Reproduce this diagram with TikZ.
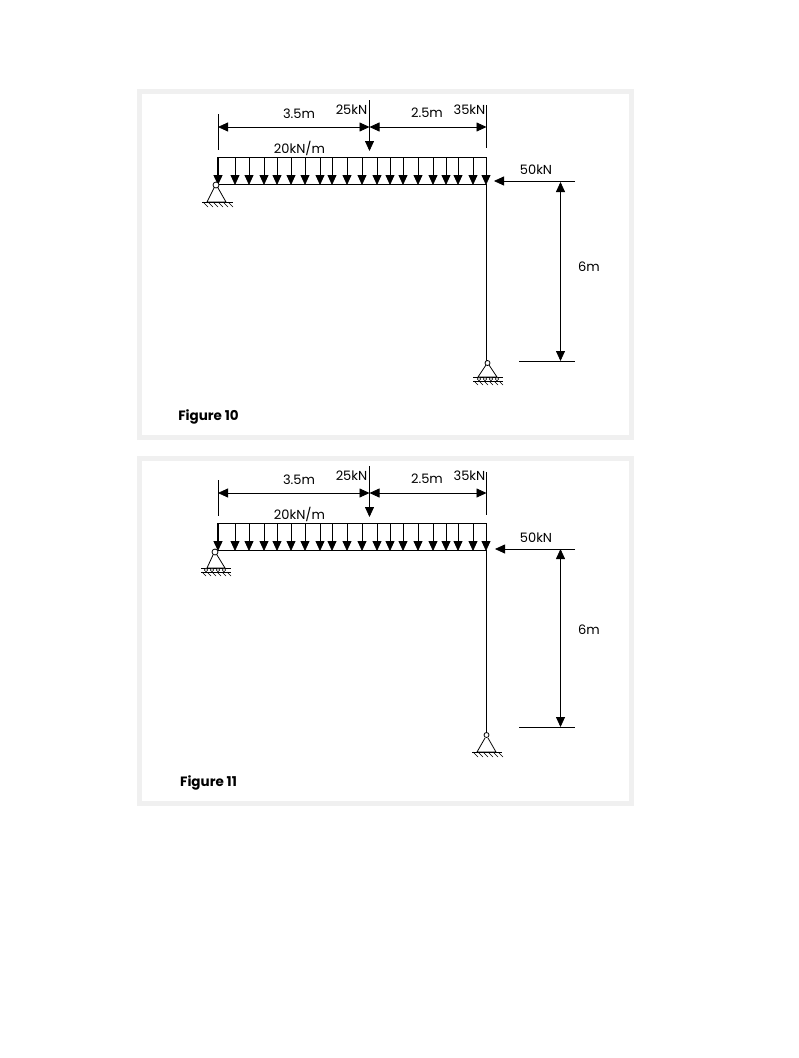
\documentclass[tikz,border=0pt]{standalone}
\usepackage{fontspec}
\setmainfont{Poppins}
\usetikzlibrary{arrows.meta}
\definecolor{panelgray}{HTML}{F0F0F0}
\tikzset{
  panel/.style = {draw = panelgray, line width = 5pt, fill = white},
  thin line/.style = {line width = .8pt},
  load/.style = {line width = .8pt, -{Triangle[width = 9pt, length = 10pt]}},
  dim/.style = {line width = .8pt, {Triangle[width = 9pt, length = 10pt]}-{Triangle[width = 9pt, length = 10pt]}},
  label/.style = {font = \fontsize{13}{14}\selectfont, inner sep = 0pt},
  title/.style = {font = \fontsize{13.5}{14}\selectfont\bfseries, inner sep = 0pt},
  hatch/.style = {line width = .6pt}
}
\begin{document}
\begin{tikzpicture}[x = 1pt, y = -1pt]
      \useasboundingbox [fill = white] (0,0) rectangle (799,1058);
      \draw [panel] (139.5,91.5) rectangle (631.5,437.5);
      \draw [panel] (139.5,458.5) rectangle (631.5,803.5);
      \foreach \off/\fig/\wtop in {0/10/105, 366/11/106} {
        \begin{scope}[yshift = -\off pt]
        \draw [thin line] (218,114) --++ (0,36);
        \draw [thin line] (486.5,\wtop) --++ (0,43);
        \draw [dim] (218,127) -- (369.5,127);
        \draw [dim] (369.5,127) -- (486.5,127);
        \draw [load] (369.5,100) -- (369.5,151);
        \draw [thin line] (218,157) -- (486.5,157);
        \draw [load, line width = 1.4pt] (218,157) -- (218,185);
        \foreach \xload in {235,249,264,277,291,305,320,332,347,362,377,390,403,418,433,446,458,473,486} {
          \draw [load] (\xload,157) -- (\xload,185);
        }
        \draw [line width = 1.2pt] (218,184.5) -- (487,184.5);
        \node [label] (spanA\fig) at (299,114) {3.5m};
        \node [label] (forceA\fig) at (351.5,110) {25kN};
        \node [label] (spanB\fig) at (427,112.5) {2.5m};
        \node [label] (forceB\fig) at (469.5,110) {35kN};
        \node [label] (udl\fig) at (299.5,148) {20kN/m};
        \end{scope}
      }
      \draw [thin line] (486.5,185) -- (486.5,362);
      \draw [load] (575,181) -- (494,181);
      \draw [dim] (560.5,182) -- (560.5,361);
      \draw [thin line] (519,361) --++ (56,0);
      \node [label] (wind10) at (536,170) {50kN};
      \node [label] (height10) at (589,267) {6m};
      \node [title] (title10) at (208.5,417) {Figure 10};
      \draw [thin line] (486.5,551) -- (486.5,733);
      \draw [load] (575,549) -- (495,549);
      \draw [dim] (560.5,549) -- (560.5,727);
      \draw [thin line] (519,727) --++ (56,0);
      \node [label] (wind11) at (536,538) {50kN};
      \node [label] (height11) at (589,630) {6m};
      \node [title] (title11) at (208.5,783) {Figure 11};
      % hinge, figure 10 left
      \draw [thin line] (214.5,187) -- (207,202) -- (226,202) -- (217.5,187);
      \draw [fill = white, thin line] (216,185) circle (3pt);
      \draw [thin line] (202,202) --++ (31,0);
      \foreach \xh in {203,208,213,218,223,228} {
        \draw [hatch] (\xh,202) --++ (5,5);
      }
      % roller, figure 10 right
      \draw [thin line] (486,365) -- (478,377) -- (497,377) -- (489,365);
      \draw [fill = white, thin line] (487.5,363) circle (2.5pt);
      \draw [thin line] (473,377) --++ (30,0);
      \draw [thin line] (473,381) --++ (30,0);
      \foreach \xr in {478,484,490,496} {
        \draw [hatch, fill = white] (\xr+1,379) circle (1.8pt);
      }
      \foreach \xh in {474,479,484,489,494,499} {
        \draw [hatch] (\xh,381) --++ (4,4);
      }
      % roller, figure 11 left
      \draw [thin line] (213,555) -- (207,568) -- (225,568) -- (217,555);
      \draw [fill = white, thin line] (215,552) circle (3pt);
      \draw [thin line] (201,568) --++ (30,0);
      \draw [thin line] (201,572) --++ (30,0);
      \foreach \xr in {206,212,218,224} {
        \draw [hatch, fill = white] (\xr,570) circle (1.8pt);
      }
      \foreach \xh in {202,207,212,217,222,227} {
        \draw [hatch] (\xh,572) --++ (4,4);
      }
      % hinge, figure 11 right
      \draw [thin line] (485,738) -- (477,752) -- (496,752) -- (488,738);
      \draw [fill = white, thin line] (486.5,735) circle (2.5pt);
      \draw [thin line] (472,752) --++ (30,0);
      \foreach \xh in {473,478,483,488,493,498} {
        \draw [hatch] (\xh,752) --++ (5,5);
      }
      \end{tikzpicture}
\end{document}
